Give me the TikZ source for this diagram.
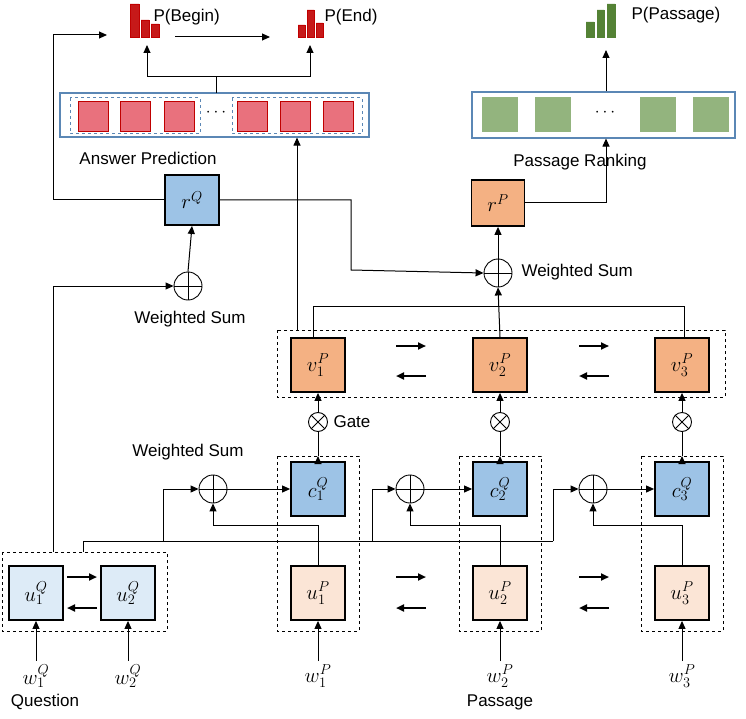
\documentclass[tikz,border=0pt]{standalone}
\usepackage{fontspec}
\setmainfont{Liberation Sans}
\usetikzlibrary{arrows.meta}
\definecolor{qlight}{HTML}{DDEBF7}
\definecolor{qblue}{HTML}{9DC3E6}
\definecolor{plight}{HTML}{FBE5D6}
\definecolor{porange}{HTML}{F4B183}
\definecolor{redf}{HTML}{E9717D}
\definecolor{redd}{HTML}{C00000}
\definecolor{greenf}{HTML}{93B47E}
\definecolor{greend}{HTML}{548235}
\definecolor{frame}{HTML}{5B87B5}
\begin{document}
\begin{tikzpicture}[x=1pt,y=-1pt,
  box/.style={draw,line width=1.8pt,minimum width=54pt,minimum height=54pt,inner sep=0pt,font=\fontsize{21}{24}\selectfont},
  dbox/.style={draw,dashed,line width=1pt},
  arr/.style={-{Triangle[length=8pt,width=7pt]},line width=1pt},
  ln/.style={line width=1pt},
  opl/.style={draw,circle,minimum size=28pt,inner sep=0pt,line width=0.9pt},
  otm/.style={draw,circle,minimum size=19pt,inner sep=0pt,line width=0.9pt},
  lbl/.style={font=\fontsize{17}{20}\selectfont},
  wl/.style={font=\fontsize{22}{24}\selectfont},
  rsq/.style={draw=redd,fill=redf,line width=0.8pt,minimum width=30pt,minimum height=30pt,inner sep=0pt},
  gsq/.style={fill=greenf,minimum width=36pt,minimum height=35pt,inner sep=0pt},
  fr/.style={draw=frame,line width=1.1pt},
  gd/.style={draw=frame,dashed,line width=1pt}]
\useasboundingbox (0,0) rectangle (746,719);
% question
\node[box,fill=qlight] (u1q) at (36,593) {$u_1^Q$};
\node[box,fill=qlight] (u2q) at (128,593) {$u_2^Q$};
\draw[dbox] (2,552) rectangle (167,631);
\coordinate (qtop1) at (53,552);
\coordinate (qtop2) at (83,552);
\node[wl] (w1q) at (36,676) {$w_1^Q$};
\node[wl] (w2q) at (128,676) {$w_2^Q$};
\node[lbl] (qtxt) at (45,702) {Question};
\draw[arr] (w1q.north) -- (u1q.south);
\draw[arr] (w2q.north) -- (u2q.south);
\draw[arr,line width=2pt] (67,577) -- (97,577);
\draw[arr,line width=2pt] (97,608) -- (67,608);
% passage
\foreach \i/\x in {1/318,2/500,3/682}{
  \node[box,fill=plight] (u\i p) at (\x,593) {$u_\i^P$};
  \node[box,fill=qblue] (c\i q) at (\x,489) {$c_\i^Q$};
  \node[wl] (w\i p) at (\x,676) {$w_\i^P$};
  \draw[arr] (w\i p.north) -- (u\i p.south);
  \draw[dbox] (\x-41,456) rectangle (\x+41,631);
  \coordinate (ct\i) at (\x,456);
  \node[otm] (g\i) at (\x,422) {};
  \draw[ln] (g\i.north west) -- (g\i.south east) (g\i.north east) -- (g\i.south west);
  \node[box,fill=porange] (v\i) at (\x,365) {$v_\i^P$};
  \draw[arr] (c\i q.north) -- (ct\i);
  \draw[ln] (ct\i) -- (g\i.south);
  \draw[arr] (g\i.north) -- (v\i.south);
}
\node[lbl] (ptxt) at (500,702) {Passage};
\foreach \i/\x in {1/213,2/410,3/593}{
  \node[opl] (s\i) at (\x,489) {};
  \draw[ln] (s\i.north) -- (s\i.south) (s\i.west) -- (s\i.east);
  \draw[arr] (s\i.east) -- (c\i q.west);
}
\draw[arr] (u1p.north) |- (213,525) -- (s1.south);
\draw[arr] (u2p.north) |- (410,525) -- (s2.south);
\draw[arr] (u3p.north) |- (593,525) -- (s3.south);
\draw[ln] (qtop2) |- (553,541);
\draw[arr] (553,541) |- (s3.west);
\draw[arr] (163,541) |- (s1.west);
\draw[arr] (372,541) |- (s2.west);
\node[lbl] (ws1) at (188,452) {Weighted Sum};
\node[lbl,anchor=west] (gate) at (330,422) {Gate};
\foreach \x in {396,579}{
  \draw[arr,line width=2pt] (\x,577) -- (\x+30,577);
  \draw[arr,line width=2pt] (\x+30,608) -- (\x,608);
  \draw[arr,line width=2pt] (\x,346) -- (\x+30,346);
  \draw[arr,line width=2pt] (\x+30,376) -- (\x,376);
}
\draw[dbox] (277,330) rectangle (725,397);
% top weighted sum
\node[opl] (s4) at (498,273) {};
\draw[ln] (s4.north) -- (s4.south) (s4.west) -- (s4.east);
\node[lbl,anchor=west] (ws2) at (518,272) {Weighted Sum};
\draw[line width=0.7pt] (313,337) |- (684,306) -- (684,337);
\draw[arr] (v2.north) -- (s4.south);
\node[box,fill=porange,minimum width=53pt,minimum height=46pt] (rp) at (498,203) {$r^P$};
\draw[arr] (s4.north) -- (rp.south);
% question weighted sum
\node[opl] (s5) at (188,286) {};
\draw[ln] (s5.north) -- (s5.south) (s5.west) -- (s5.east);
\node[lbl] (ws3) at (190,319) {Weighted Sum};
\draw[arr] (qtop1) |- (s5.west);
\node[box,fill=qblue,minimum width=54pt,minimum height=50pt] (rq) at (192,200) {$r^Q$};
\draw[arr] (s5.north) -- (rq.south);
\draw[arr] (rq.east) -| (351,270) -- (s4.west);
% answer prediction
\node[fr,minimum width=309pt,minimum height=44pt,inner sep=0pt] (ap) at (214.5,115) {};
\draw[gd] (70,98) rectangle (200,134);
\draw[gd] (232,98) rectangle (362,134);
\foreach \x/\n in {93/a,135/b,179/c,252/d,295/e,338/f}{\node[rsq] (r\n) at (\x,116) {};}
\node[lbl] (dots1) at (216,113) {$\cdots$};
\node[lbl] (aptxt) at (148,158) {Answer Prediction};
\coordinate (vtop) at (297,330);
\draw[arr] (vtop) -- (vtop |- ap.south);
\draw[arr] (rq.west) -| (53,35) -- (107,35);
% bars
\draw[redd,fill=redd!90] (130,4) rectangle (139,37) (141,20) rectangle (149,37) (151,24) rectangle (159,37);
\draw[redd,fill=redd!90] (298,25) rectangle (305,37) (307,10) rectangle (314,37) (316,23) rectangle (323,37);
\node[lbl,anchor=west] (pb) at (150,17) {P(Begin)};
\node[lbl,anchor=west] (pe) at (321,17) {P(End)};
\draw[arr] (175,37) -- (270,37);
\draw[ln] (216,93) -- (216,77);
\draw[arr] (216,77) -| (147,45);
\draw[arr] (216,77) -| (310,45);
% passage ranking
\node[fr,minimum width=263pt,minimum height=46pt,inner sep=0pt] (pr) at (603.5,115) {};
\foreach \x/\n in {500/a,553/b,658/c,711/d}{\node[gsq] (g\n) at (\x,115) {};}
\node[lbl] (dots2) at (605,113) {$\cdots$};
\node[lbl] (prtxt) at (580,162) {Passage Ranking};
\coordinate (prx) at (606,0);
\draw[arr] (rp.east) -| (prx |- pr.south);
\draw[arr] (prx |- pr.north) -- (606,50);
\draw[greend,fill=greend] (586,22) rectangle (594,37) (597,10) rectangle (604,37) (607,4) rectangle (615,37);
\node[lbl,anchor=west] (pp) at (628,15) {P(Passage)};
\end{tikzpicture}
\end{document}
